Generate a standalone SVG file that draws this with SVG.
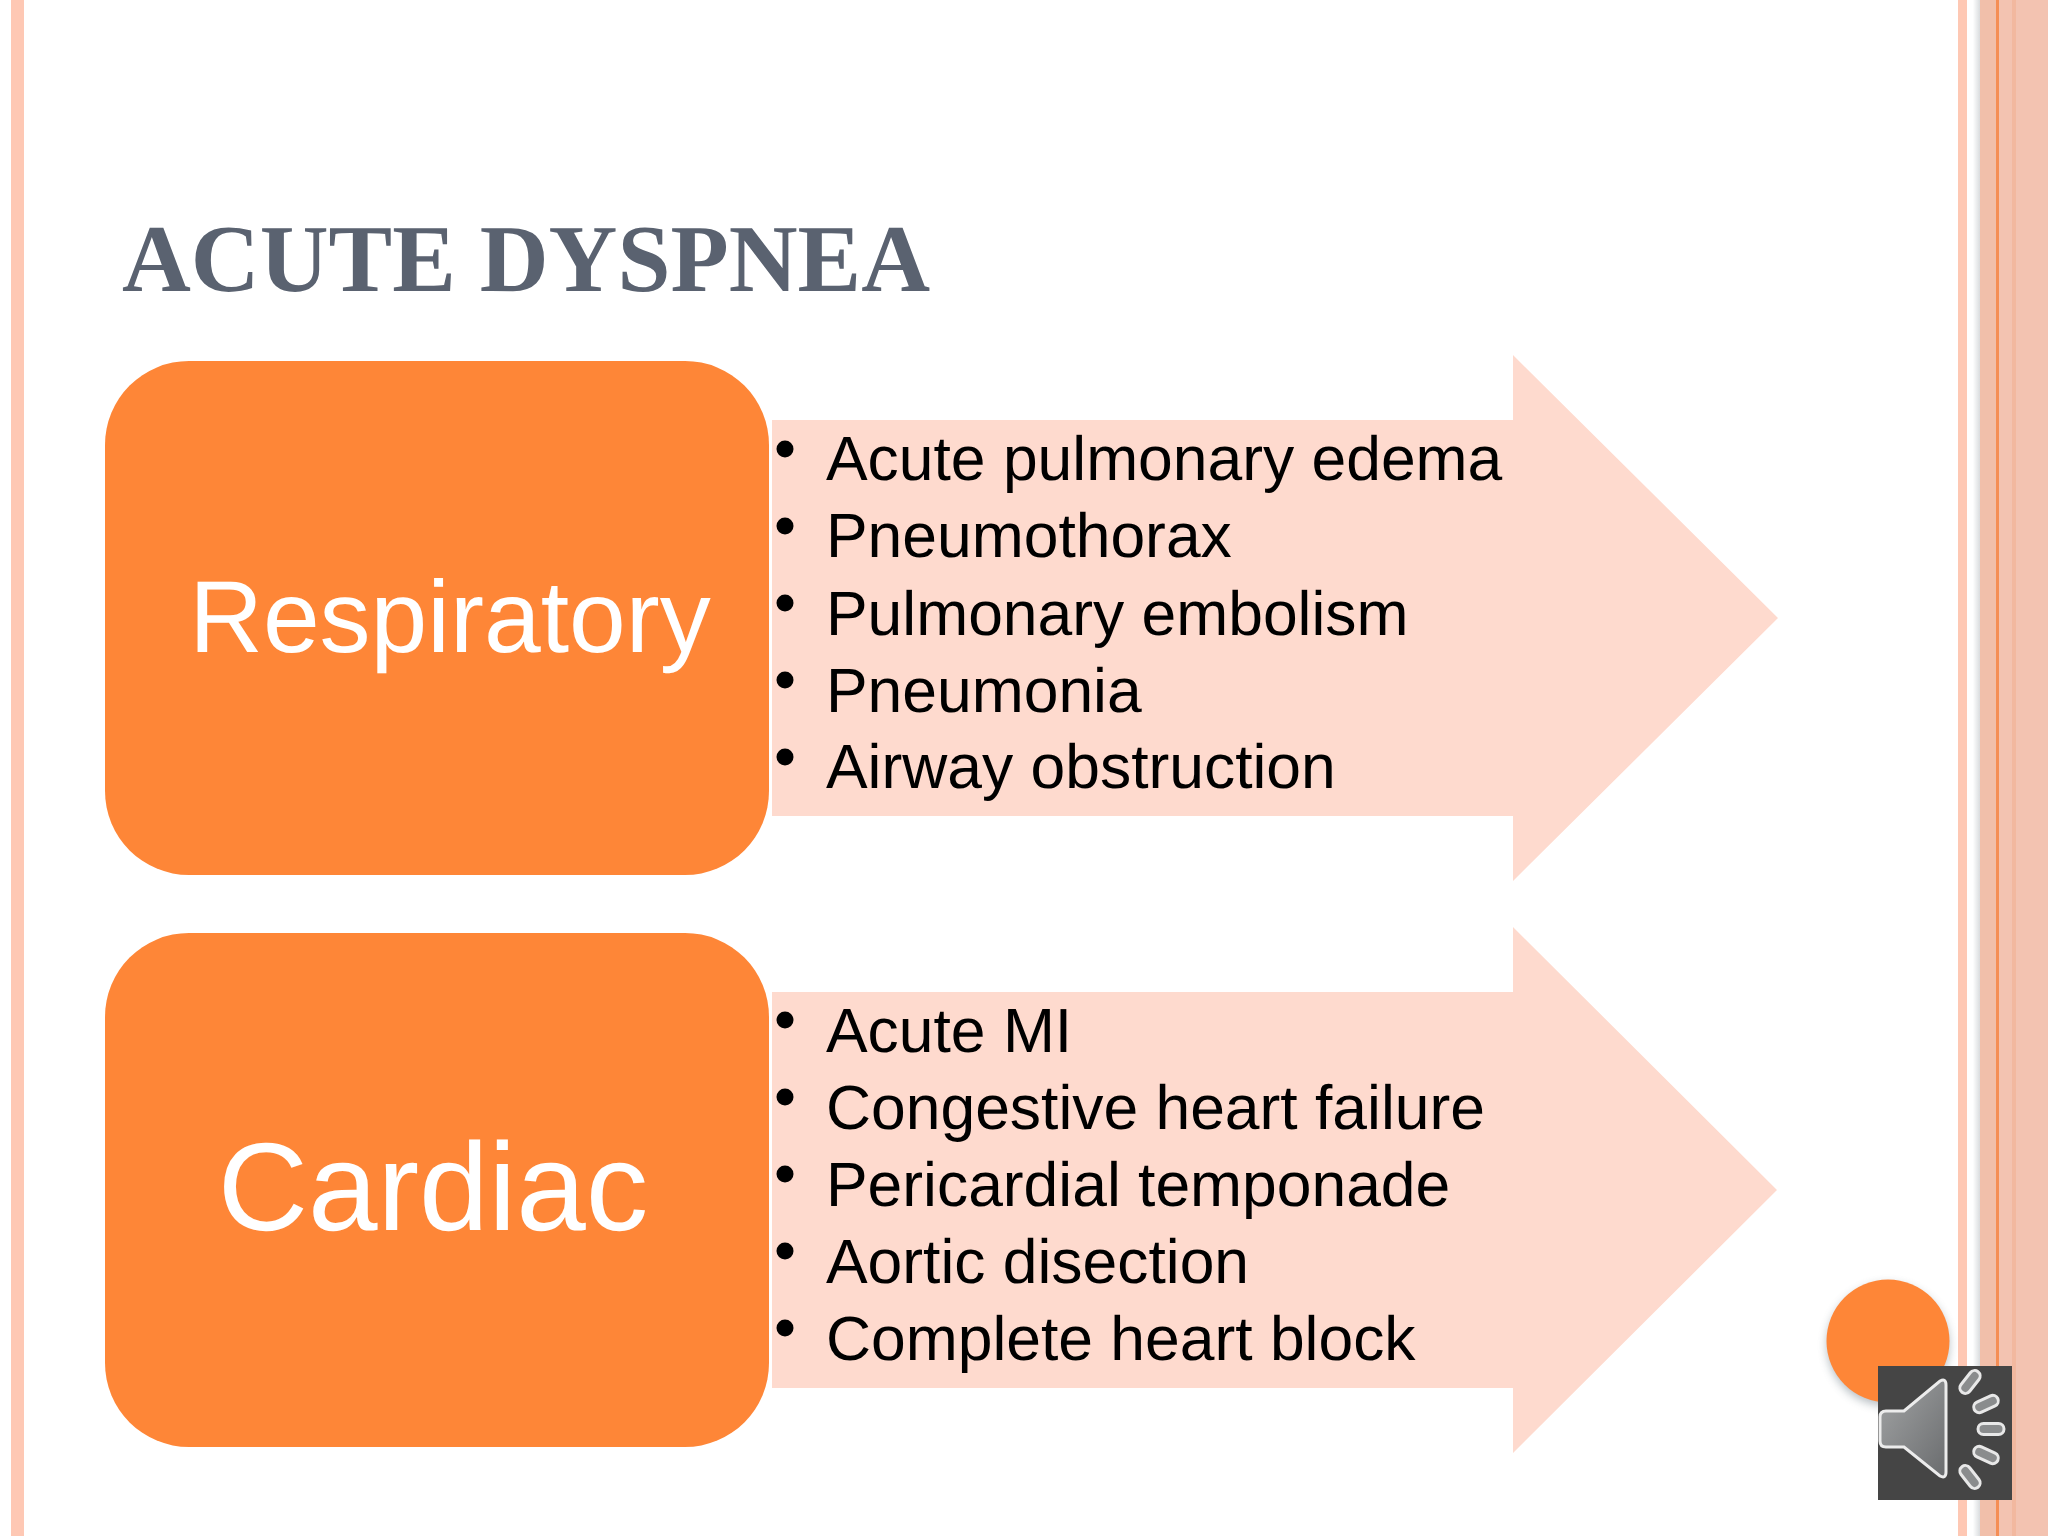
<svg xmlns="http://www.w3.org/2000/svg" width="2048" height="1536" viewBox="0 0 2048 1536">
<defs>
<style>
text{text-rendering:geometricPrecision}
.box{fill:#fe8637}
.arrow{fill:#fedace}
.item{font-family:"Liberation Sans",Arial,sans-serif;font-size:62.4px;fill:#000}
.bullet{fill:#000}
.label{font-family:"Liberation Sans",Arial,sans-serif;fill:#fff}
.wave{fill:#8a8c8d;stroke:#e8e8e8;stroke-width:3}
</style>
<linearGradient id="spk" x1="0" y1="0" x2="1" y2="1"><stop offset="0" stop-color="#a2a4a5"/><stop offset="1" stop-color="#6a6c6e"/></linearGradient>
<linearGradient id="sh" x1="0" y1="0" x2="1" y2="0"><stop offset="0" stop-color="#fff"/><stop offset="0.45" stop-color="#fff"/><stop offset="1" stop-color="#d9dcde"/></linearGradient>
<filter id="blur" x="-30%" y="-30%" width="160%" height="160%"><feGaussianBlur stdDeviation="5"/></filter>
</defs>
<rect width="2048" height="1536" fill="#fff"/>
<g id="frame">
<rect x="11" y="0" width="13" height="1536" fill="#fec8b4"/>
<rect x="1958" y="0" width="9" height="1536" fill="#fec8b4"/>
<rect x="1967" y="0" width="13" height="1536" fill="url(#sh)"/>
<rect x="1980" y="0" width="68" height="1536" fill="#f3c3b1"/>
<rect x="1980" y="0" width="16" height="1536" fill="#f1bfaa"/>
<rect x="1996" y="0" width="3" height="1536" fill="#f58e55"/>
<rect x="2012" y="0" width="4" height="1536" fill="#f2b89f"/>
</g>
<text id="title" x="122" y="291" font-family="'Liberation Serif',serif" font-weight="bold" font-size="96" fill="#5a6270" textLength="808" lengthAdjust="spacingAndGlyphs">ACUTE DYSPNEA</text>
<g id="arrow-respiratory">
<polygon class="arrow" points="772,420 1513,420 1513,355 1778,618 1513,881 1513,816 772,816"/>
<g class="item">
<text x="826" y="480">Acute pulmonary edema</text>
<text x="826" y="557">Pneumothorax</text>
<text x="826" y="634.5">Pulmonary embolism</text>
<text x="826" y="711.5">Pneumonia</text>
<text x="826" y="788">Airway obstruction</text>
</g>
<circle class="bullet" cx="785" cy="449" r="8.5"/>
<circle class="bullet" cx="785" cy="526" r="8.5"/>
<circle class="bullet" cx="785" cy="603" r="8.5"/>
<circle class="bullet" cx="785" cy="680" r="8.5"/>
<circle class="bullet" cx="785" cy="757" r="8.5"/>
</g>
<g id="arrow-cardiac">
<polygon class="arrow" points="772,992 1513,992 1513,927 1777,1190 1513,1453 1513,1388 772,1388"/>
<g class="item">
<text x="826" y="1052">Acute MI</text>
<text x="826" y="1129">Congestive heart failure</text>
<text x="826" y="1206">Pericardial temponade</text>
<text x="826" y="1283">Aortic disection</text>
<text x="826" y="1360">Complete heart block</text>
</g>
<circle class="bullet" cx="785" cy="1020" r="8.5"/>
<circle class="bullet" cx="785" cy="1097" r="8.5"/>
<circle class="bullet" cx="785" cy="1174" r="8.5"/>
<circle class="bullet" cx="785" cy="1251" r="8.5"/>
<circle class="bullet" cx="785" cy="1328" r="8.5"/>
</g>
<g id="node-respiratory">
<rect class="box" x="105" y="361" width="664" height="514" rx="84"/>
<text class="label" x="450" y="652" font-size="102" text-anchor="middle">Respiratory</text>
</g>
<g id="node-cardiac">
<rect class="box" x="105" y="933" width="664" height="514" rx="84"/>
<text class="label" x="433" y="1230" font-size="125" text-anchor="middle">Cardiac</text>
</g>
<g id="dot">
<circle cx="1888" cy="1345" r="61" fill="#5a6a74" opacity="0.45" filter="url(#blur)"/>
<circle cx="1888" cy="1341" r="61.5" fill="#fe8637"/>
</g>
<g id="speaker">
<rect x="1878" y="1366" width="134" height="134" fill="#454545"/>
<path d="M1886,1411 H1904 L1940,1381 Q1946,1378 1946,1385 V1472 Q1946,1479 1940,1476 L1904,1447 H1886 Q1880,1447 1880,1441 V1417 Q1880,1411 1886,1411 Z" fill="url(#spk)" stroke="#ececec" stroke-width="3"/>
<rect class="wave" x="-13" y="-5.5" width="26" height="11" rx="5.5" transform="translate(1970,1382) rotate(-52)"/>
<rect class="wave" x="-13" y="-5.5" width="26" height="11" rx="5.5" transform="translate(1986,1404) rotate(-25)"/>
<rect class="wave" x="-13" y="-5.5" width="26" height="11" rx="5.5" transform="translate(1991,1429)"/>
<rect class="wave" x="-13" y="-5.5" width="26" height="11" rx="5.5" transform="translate(1986,1455) rotate(25)"/>
<rect class="wave" x="-13" y="-5.5" width="26" height="11" rx="5.5" transform="translate(1970,1477) rotate(52)"/>
</g>
</svg>
